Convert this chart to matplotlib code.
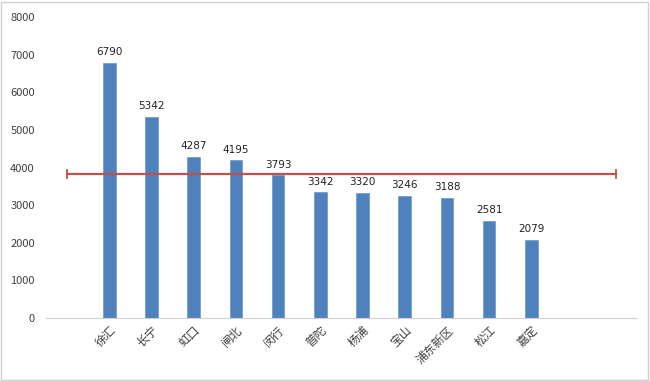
import matplotlib
matplotlib.use("Agg")
import matplotlib.pyplot as plt
from matplotlib.patches import Rectangle

plt.rcParams['font.family'] = ['Noto Sans CJK SC', 'DejaVu Sans']

districts = ["徐汇", "长宁", "虹口", "闸北", "闵行", "普陀", "杨浦", "宝山", "浦东新区", "松江", "嘉定"]
values = [6790, 5342, 4287, 4195, 3793, 3342, 3320, 3246, 3188, 2581, 2079]
average = sum(values) / len(values)
yticks = [0, 1000, 2000, 3000, 4000, 5000, 6000, 7000, 8000]

fig = plt.figure(figsize=(6.5, 3.81), dpi=100)
fig.patches.append(Rectangle((0.002, 0.003), 0.995, 0.993, transform=fig.transFigure,
                             fill=False, edgecolor='#d0d0d0', linewidth=1.0))
ax = fig.add_axes([0.0708, 0.1654, 0.909, 0.7896])

pos = list(range(1, len(districts) + 1))
ax.bar(pos, values, width=0.30, color='#4F81BD', edgecolor='#6a96cc', linewidth=0.5, zorder=2)
for p, v in zip(pos, values):
    ax.text(p, v + 150, str(v), ha='center', va='bottom', fontsize=7.5, color='#222222',
            family=['DejaVu Sans'])

ax.plot([0, 13], [average, average], color='#C0504D', linewidth=1.6, zorder=3)
ax.plot([0, 0], [average - 110, average + 110], color='#C0504D', linewidth=1.3, zorder=3)
ax.plot([13, 13], [average - 110, average + 110], color='#C0504D', linewidth=1.3, zorder=3)

ax.set_xlim(-0.5, 13.5)
ax.set_ylim(0, 8000)
ax.set_yticks(yticks)
ax.set_yticklabels([str(t) for t in yticks], fontsize=8, color='#404040')
ax.set_xticks(pos)
ax.set_xticklabels(districts, rotation=45, ha='right', rotation_mode='anchor',
                   fontsize=8.5, color='#404040')
ax.tick_params(axis='both', length=0)
ax.tick_params(axis='y', pad=8)
ax.tick_params(axis='x', pad=4)
for s in ['left', 'right', 'top']:
    ax.spines[s].set_visible(False)
ax.spines['bottom'].set_color('#d0d0d0')

fig.savefig('out.png', dpi=100)
